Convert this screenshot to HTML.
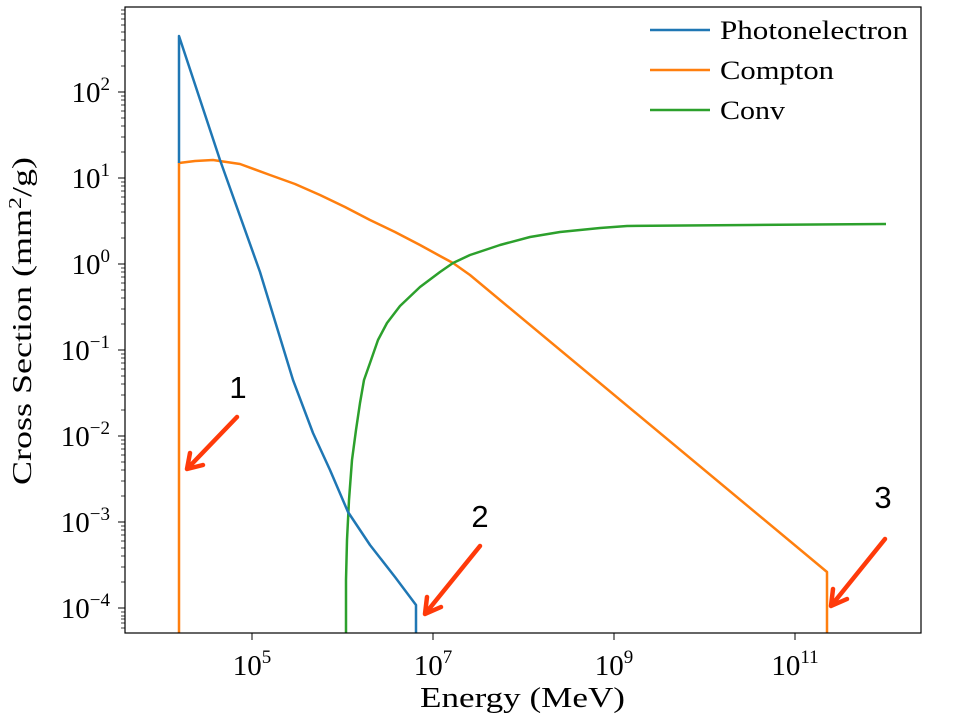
<!DOCTYPE html>
<html><head><style>body{margin:0;background:#fff}</style></head><body>
<svg width="961" height="721" xmlns="http://www.w3.org/2000/svg" font-family="Liberation Serif, serif">
<rect width="961" height="721" fill="#fff"/>
<g fill="none" stroke-width="2.5" stroke-linejoin="round">
<polyline stroke="#ff7f0e" points="179,633 179,163 195,161 213,160 240,164 270,175 295,184 320,195 345,207 370,220 395,232 420,245 440,256 453,263 470,275 827,572 827,633"/>
<polyline stroke="#2ca02c" points="346,633 346,580 347,540 349,500 352,460 356,430 360,403 364,380 370,363 378,340 387,323 400,306 420,287 440,272 453,263 470,255 500,245 530,237 560,232 600,228 627,226 750,225 886,224"/>
<polyline stroke="#1f77b4" points="179,163 179,36 220,160 260,272 293,380 313,433 330,470 348,512 370,545 395,577 416,605 416,633"/>
</g>
<rect x="125" y="7" width="796" height="626" fill="none" stroke="#000" stroke-width="1.2"/>
<g stroke="#000" stroke-width="1">
<line x1="252" y1="633" x2="252" y2="640"/><line x1="433" y1="633" x2="433" y2="640"/><line x1="614" y1="633" x2="614" y2="640"/><line x1="795" y1="633" x2="795" y2="640"/>
<line x1="118" y1="92" x2="125" y2="92"/><line x1="118" y1="178" x2="125" y2="178"/><line x1="118" y1="264" x2="125" y2="264"/><line x1="118" y1="350" x2="125" y2="350"/><line x1="118" y1="436" x2="125" y2="436"/><line x1="118" y1="522" x2="125" y2="522"/><line x1="118" y1="608" x2="125" y2="608"/>
</g>
<g stroke="#000" stroke-width="0.8">
<path d="M121,66h4M121,51h4M121,40h4M121,32h4M121,25h4M121,19h4M121,14h4M121,10h4
M121,152h4M121,137h4M121,126h4M121,118h4M121,111h4M121,105h4M121,100h4M121,96h4
M121,238h4M121,223h4M121,212h4M121,204h4M121,197h4M121,191h4M121,186h4M121,182h4
M121,324h4M121,309h4M121,298h4M121,290h4M121,283h4M121,277h4M121,272h4M121,268h4
M121,410h4M121,395h4M121,384h4M121,376h4M121,369h4M121,363h4M121,358h4M121,354h4
M121,496h4M121,481h4M121,470h4M121,462h4M121,455h4M121,449h4M121,444h4M121,440h4
M121,582h4M121,567h4M121,556h4M121,548h4M121,541h4M121,535h4M121,530h4M121,526h4
M121,628h4M121,623h4M121,619h4M121,616h4M121,612h4"/>
</g>
<g font-size="29" fill="#000">
<text x="252" y="675" text-anchor="middle">10<tspan font-size="19" dy="-12">5</tspan></text>
<text x="433" y="675" text-anchor="middle">10<tspan font-size="19" dy="-12">7</tspan></text>
<text x="614" y="675" text-anchor="middle">10<tspan font-size="19" dy="-12">9</tspan></text>
<text x="795" y="675" text-anchor="middle">10<tspan font-size="19" dy="-12">11</tspan></text>
<g text-anchor="end">
<text x="110" y="102">10<tspan font-size="19" dy="-12">2</tspan></text>
<text x="110" y="188">10<tspan font-size="19" dy="-12">1</tspan></text>
<text x="110" y="274">10<tspan font-size="19" dy="-12">0</tspan></text>
<text x="110" y="360">10<tspan font-size="19" dy="-12">−1</tspan></text>
<text x="110" y="446">10<tspan font-size="19" dy="-12">−2</tspan></text>
<text x="110" y="532">10<tspan font-size="19" dy="-12">−3</tspan></text>
<text x="110" y="618">10<tspan font-size="19" dy="-12">−4</tspan></text>
</g>
<text x="420" y="707" textLength="205" lengthAdjust="spacingAndGlyphs">Energy (MeV)</text>
</g>
<text transform="translate(31,485) rotate(-90)" font-size="27" textLength="328" lengthAdjust="spacingAndGlyphs">Cross Section (mm<tspan font-size="18" dy="-10">2</tspan><tspan dy="10">/g)</tspan></text>
<g font-size="26">
<line x1="650" y1="30" x2="710" y2="30" stroke="#1f77b4" stroke-width="2.5"/><text x="720" y="39" textLength="188" lengthAdjust="spacingAndGlyphs">Photonelectron</text>
<line x1="650" y1="70" x2="710" y2="70" stroke="#ff7f0e" stroke-width="2.5"/><text x="720" y="79" textLength="114" lengthAdjust="spacingAndGlyphs">Compton</text>
<line x1="650" y1="110" x2="710" y2="110" stroke="#2ca02c" stroke-width="2.5"/><text x="720" y="119" textLength="65" lengthAdjust="spacingAndGlyphs">Conv</text>
</g>
<g stroke="#ff3a0a" stroke-width="4.5" fill="none" stroke-linecap="round">
<path d="M237,417 L187,469 M187,469 L190,453 M187,469 L203,465"/>
<path d="M480,546 L425,614 M425,614 L427,597 M425,614 L441,607"/>
<path d="M885,539 L831,606 M831,606 L833,589 M831,606 L847,599"/>
</g>
<g font-family="Liberation Sans, sans-serif" font-size="31" fill="#000" text-anchor="middle">
<text x="238" y="398">1</text><text x="480" y="527">2</text><text x="883" y="508">3</text>
</g>
</svg>
</body></html>
